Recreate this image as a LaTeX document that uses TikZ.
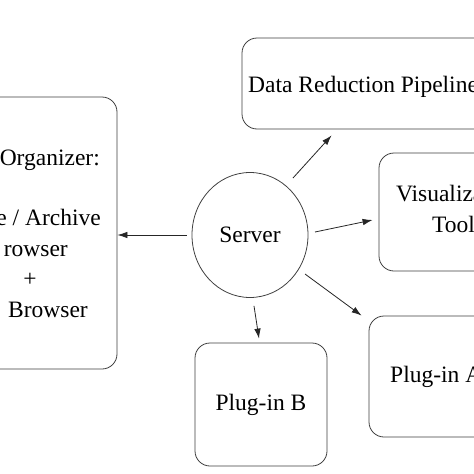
\documentclass[tikz,border=0pt]{standalone}
\usepackage{fontspec}
\setmainfont{Liberation Serif}
\usetikzlibrary{arrows.meta,shapes.geometric}
\tikzset{
  box/.style={draw=black!75, line width=0.8pt, rounded corners=15pt, inner sep=0pt},
  srv/.style={draw=black!75, line width=0.8pt, ellipse, inner sep=0pt, minimum width=116pt, minimum height=125pt},
  lbl/.style={inner sep=0pt, font=\fontsize{23.5}{30}\selectfont},
  arr/.style={draw=black!85, line width=0.8pt, -{Latex[length=10pt,width=6.5pt]}}
}
\begin{document}
\begin{tikzpicture}[x=1pt,y=-1pt]
\useasboundingbox (0,0) rectangle (474,474);
\clip (0,0) rectangle (474,474);
\fill[white] (0,0) rectangle (474,474);
% boxes
\node[box, minimum width=177pt, minimum height=272pt] (org) at (28.5,233) {};
\node[box, minimum width=278pt, minimum height=91pt] (pipe) at (381,83.5) {};
\node[box, minimum width=151pt, minimum height=118pt] (vis) at (454.5,212) {};
\node[box, minimum width=151pt, minimum height=121pt] (pla) at (444.5,376.5) {};
\node[box, lbl, minimum width=132pt, minimum height=123pt] (plb) at (261,404.5) {Plug-in B};
\node[srv, lbl] (server) at (250,235) {Server};
% texts
\node[lbl, anchor=base east] (t1) at (100,165) {Organizer:};
\node[lbl, anchor=base east] (t2) at (101,225) {e / Archive};
\node[lbl, anchor=base east] (t3) at (68,256) {rowser};
\node[lbl, anchor=base] (t4) at (30,286) {+};
\node[lbl, anchor=base east] (t5) at (88,317) {Browser};
\node[lbl, anchor=base west] (tp) at (248,92) {Data Reduction Pipeline};
\node[lbl, align=center, font=\fontsize{23.5}{31}\selectfont] (tv) at (458,209) {Visualization\\Tools};
\node[lbl, anchor=base west] (ta) at (390,382) {Plug-in A};
% connectors
\draw[arr, shorten <=5pt] (server.west) -- (server.west -| org.east);
\draw[arr] ([shift={(43,-57)}]server.center) -- ([shift={(90,6)}]pipe.south west);
\draw[arr] ([shift={(65,-3)}]server.center) -- ([shift={(-6,8)}]vis.west);
\draw[arr] ([shift={(55,39)}]server.center) -- ([shift={(-7,0)}]pla.north west);
\draw[arr] ([shift={(4,8)}]server.south) -- ([shift={(-2,-4)}]plb.north);
\end{tikzpicture}
\end{document}
